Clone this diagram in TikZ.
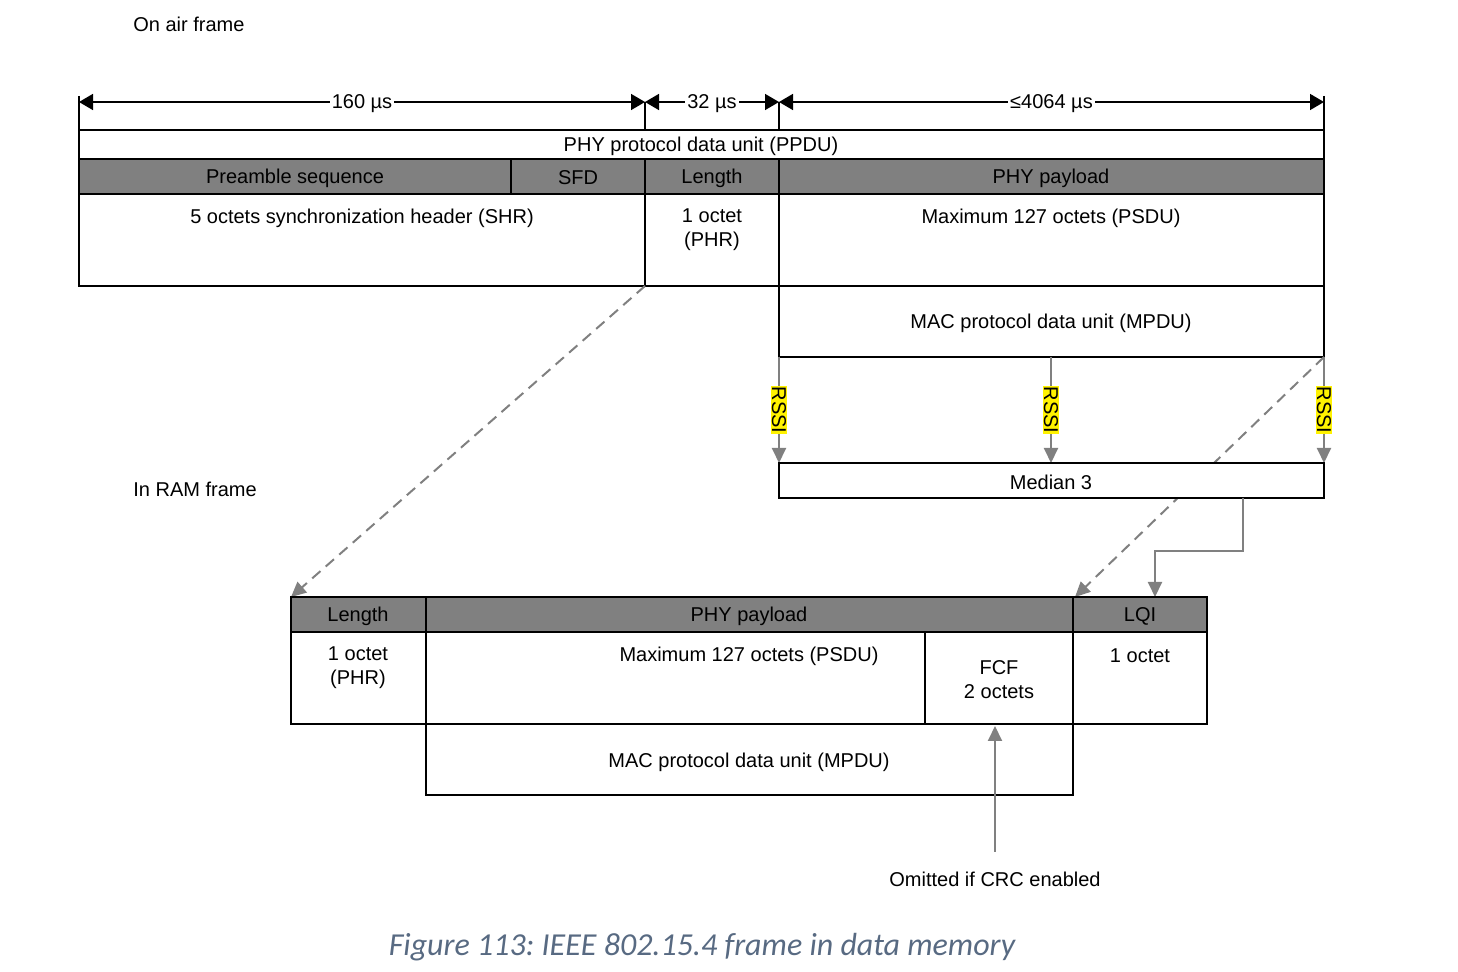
\documentclass[tikz,border=0pt]{standalone}
\usepackage{fontspec}
\setmainfont{Liberation Sans}
\newfontfamily\capfont{Carlito}
\usetikzlibrary{arrows.meta}

\definecolor{hdrgray}{RGB}{128,128,128}
\definecolor{linkgray}{RGB}{128,128,128}
\definecolor{capblue}{RGB}{88,106,130}

\tikzstyle{dim}=[{Triangle[length=7pt,width=8pt]}-{Triangle[length=7pt,width=8pt]}, line width=0.8pt]
\tikzstyle{box}=[draw=black, line width=0.9pt]
\tikzstyle{hdr}=[box, fill=hdrgray]
\tikzstyle{link}=[draw=linkgray, line width=1pt, -{Triangle[length=7.5pt,width=7pt]}]
\tikzstyle{dlink}=[link, dash pattern=on 5.5pt off 3.5pt]
\tikzstyle{lbl}=[font=\fontsize{10}{12}\selectfont, inner sep=0pt, align=center, yshift=-1pt]
\tikzstyle{dimlbl}=[lbl, fill=white, inner xsep=1pt, inner ysep=1pt]
\tikzstyle{rssi}=[fill=yellow, inner sep=0.4pt, rotate=-90, font=\fontsize{10}{10}\selectfont]

\frenchspacing
\begin{document}
\begin{tikzpicture}[x=0.5pt, y=-0.5pt]
\useasboundingbox (0,0) rectangle (1458,972);

% titles
\node[lbl, anchor=west] (onair) at (133,22) {On air frame};
\node[lbl, anchor=west] (inram) at (133,487) {In RAM frame};

% on air frame: durations
\coordinate (t0) at (79,102);
\coordinate (t1) at (645,102);
\coordinate (t2) at (779,102);
\coordinate (t3) at (1324,102);
\draw[line width=0.8pt] (79,96) -- (79,130);
\draw[line width=0.8pt] (645,102) -- (645,130);
\draw[line width=0.8pt] (779,102) -- (779,130);
\draw[line width=0.8pt] (1324,96) -- (1324,130);
\draw[dim] (t0) -- node[dimlbl] (d160) {160 µs} (t1);
\draw[dim] (t1) -- node[dimlbl] (d32) {32 µs} (t2);
\draw[dim] (t2) -- node[dimlbl] (d4064) {≤4064 µs} (t3);

% on air frame: fields
\draw[box] (79,130) rectangle (1324,159);
\node[lbl] (ppdu) at (701,144) {PHY protocol data unit (PPDU)};
\draw[hdr] (79,159) rectangle (1324,194);
\draw[box] (511,159) -- (511,194);
\draw[box] (645,159) -- (645,286);
\draw[box] (779,159) -- (779,286);
\node[lbl] (pre) at (295,176) {Preamble sequence};
\node[lbl] (sfd) at (578,176) {SFD};
\node[lbl] (len) at (712,176) {Length};
\node[lbl] (pay) at (1051,176) {PHY payload};
\draw[box] (79,194) rectangle (1324,286);
\node[lbl] (shr) at (362,216) {5 octets synchronization header (SHR)};
\node[lbl] (phr) at (712,228) {1 octet\\(PHR)};
\node[lbl] (psdu) at (1051,216) {Maximum 127 octets (PSDU)};
\draw[box] (779,286) rectangle (1324,357);
\node[lbl] (mpdu) at (1051,321) {MAC protocol data unit (MPDU)};

% corner points used by the connectors
\coordinate (shrend) at (645,286);
\coordinate (mpduend) at (1324,357);
\coordinate (ramlen) at (291,597);
\coordinate (ramlqi) at (1075,597);

% dashed mapping lines
\draw[dlink] (shrend) -- (ramlen);
\draw[dlink] (mpduend) -- (ramlqi);

% RSSI samples
\coordinate (r1) at (779,357);  \coordinate (m1) at (779,463);
\coordinate (r2) at (1051,357); \coordinate (m2) at (1051,463);
\coordinate (r3) at (1324,357); \coordinate (m3) at (1324,463);
\draw[link] (r1) -- node[rssi] (rssi1) {RSSI} (m1);
\draw[link] (r2) -- node[rssi] (rssi2) {RSSI} (m2);
\draw[link] (r3) -- node[rssi] (rssi3) {RSSI} (m3);

\draw[box, fill=white] (779,463) rectangle (1324,498);
\node[lbl] (median) at (1051,480) {Median 3};

\coordinate (medout) at (1243,498);
\coordinate (lqiin) at (1155,597);
\draw[link] (medout) -- (1243,551) -- (1155,551) -- (lqiin);

% in RAM frame
\draw[hdr] (291,597) rectangle (1207,632);
\draw[box] (426,597) -- (426,724);
\draw[box] (1073,597) -- (1073,724);
\node[lbl] (rlen) at (358,614) {Length};
\node[lbl] (rpay) at (749,614) {PHY payload};
\node[lbl] (rlqi) at (1140,614) {LQI};
\draw[box] (291,632) rectangle (1207,724);
\draw[box] (925,632) -- (925,724);
\node[lbl] (rphr) at (358,666) {1 octet\\(PHR)};
\node[lbl] (rpsdu) at (749,654) {Maximum 127 octets (PSDU)};
\node[lbl] (rfcf) at (999,678) {FCF\\2 octets};
\node[lbl] (rlqio) at (1140,654) {1 octet};
\draw[box] (426,724) rectangle (1073,795);
\node[lbl] (rmpdu) at (749,760) {MAC protocol data unit (MPDU)};

\node[lbl] (omit) at (995,877) {Omitted if CRC enabled};
\coordinate (omitup) at (995,852);
\coordinate (fcfin) at (995,726);
\draw[link] (omitup) -- (fcfin);

% caption
\node[inner sep=0pt, text=capblue, font=\capfont\itshape\fontsize{16}{19}\selectfont] (cap) at (702,947) {Figure 113: IEEE 802.15.4 frame in data memory};

\end{tikzpicture}
\end{document}
